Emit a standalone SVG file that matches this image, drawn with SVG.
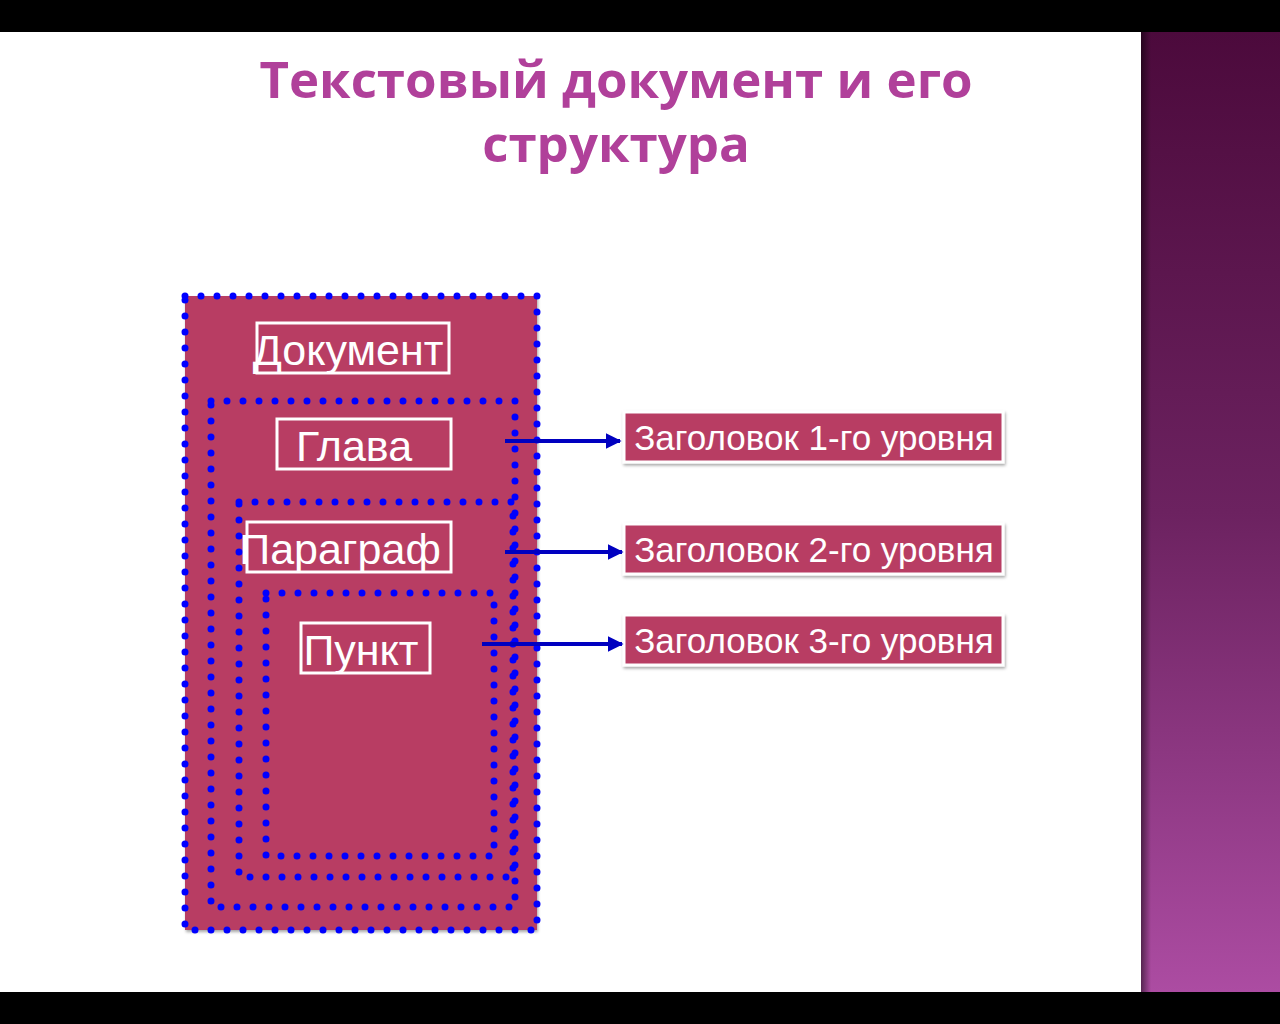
<svg xmlns="http://www.w3.org/2000/svg" width="1280" height="1024" viewBox="0 0 1280 1024">
<defs>
<linearGradient id="side" x1="0" y1="0" x2="0" y2="1"><stop offset="0" stop-color="#4c0a3c"/><stop offset="0.5" stop-color="#6c2260"/><stop offset="1" stop-color="#ac4ca2"/></linearGradient>
<linearGradient id="shade" x1="0" y1="0" x2="1" y2="0"><stop offset="0" stop-color="#000" stop-opacity="0.5"/><stop offset="1" stop-color="#000" stop-opacity="0"/></linearGradient>
<marker id="ah" viewBox="0 0 10 10" refX="9" refY="5" markerWidth="4" markerHeight="4" orient="auto"><path d="M0,0 L10,5 L0,10 z" fill="#0000c0"/></marker>
<filter id="sh" x="-5%" y="-20%" width="110%" height="150%"><feDropShadow dx="1" dy="2" stdDeviation="1.5" flood-color="#000" flood-opacity="0.35"/></filter>
</defs>
<style>
.dot{fill:none;stroke:#0000ff;stroke-width:7;stroke-linecap:round;stroke-dasharray:0 16}
.lbl{fill:none;stroke:#fff;stroke-width:3}
.t{font-family:"Liberation Sans",Arial,sans-serif;fill:#fff}
.big{font-size:43px}
.hd{font-size:35px}
.hbox{fill:#b83c64;stroke:#fff;stroke-width:3;filter:url(#sh)}
.arr{stroke:#0000c0;stroke-width:4;marker-end:url(#ah)}
</style>
<rect width="1280" height="1024" fill="#fff"/>
<rect x="0" y="0" width="1280" height="32" fill="#000"/>
<rect x="0" y="992" width="1280" height="32" fill="#000"/>
<rect x="1141" y="32" width="139" height="960" fill="url(#side)"/>
<rect x="1141" y="32" width="10" height="960" fill="url(#shade)"/>
<g id="title" font-family="'Open Sans','Liberation Sans',sans-serif" font-weight="bold" font-size="51" fill="#b0409a" text-anchor="middle">
<text x="616" y="98">Текстовый документ и его</text>
<text x="616" y="162">структура</text>
</g>
<g id="document"><rect x="185" y="296" width="352" height="634" fill="#b83c64" filter="url(#sh)"/><rect x="185" y="296" width="352" height="634" class="dot"/><rect x="257" y="323" width="192" height="50" class="lbl"/><text x="348" y="365" class="t big" text-anchor="middle">Документ</text></g>
<g id="glava"><rect x="211" y="401" width="304" height="506" class="dot"/><rect x="277" y="419" width="174" height="50" class="lbl"/><text x="354" y="461" class="t big" text-anchor="middle">Глава</text></g>
<g id="paragraf"><rect x="239" y="502" width="274" height="375" class="dot"/><rect x="247" y="522" width="204" height="50" class="lbl"/><text x="340" y="564" class="t big" text-anchor="middle">Параграф</text></g>
<g id="punkt"><rect x="266" y="593" width="228" height="263" class="dot"/><rect x="301" y="623" width="129" height="50" class="lbl"/><text x="361" y="665" class="t big" text-anchor="middle">Пункт</text></g>
<g id="h1"><rect x="624" y="412" width="379" height="50" class="hbox"/><text x="814" y="450" class="t hd" text-anchor="middle">Заголовок 1-го уровня</text></g>
<g id="h2"><rect x="624" y="524" width="379" height="50" class="hbox"/><text x="814" y="562" class="t hd" text-anchor="middle">Заголовок 2-го уровня</text></g>
<g id="h3"><rect x="624" y="615" width="379" height="50" class="hbox"/><text x="814" y="653" class="t hd" text-anchor="middle">Заголовок 3-го уровня</text></g>
<g id="connectors">
<line x1="505" y1="441" x2="620" y2="441" class="arr"/>
<line x1="505" y1="552" x2="622" y2="552" class="arr"/>
<line x1="482" y1="644" x2="622" y2="644" class="arr"/>
</g>
</svg>
